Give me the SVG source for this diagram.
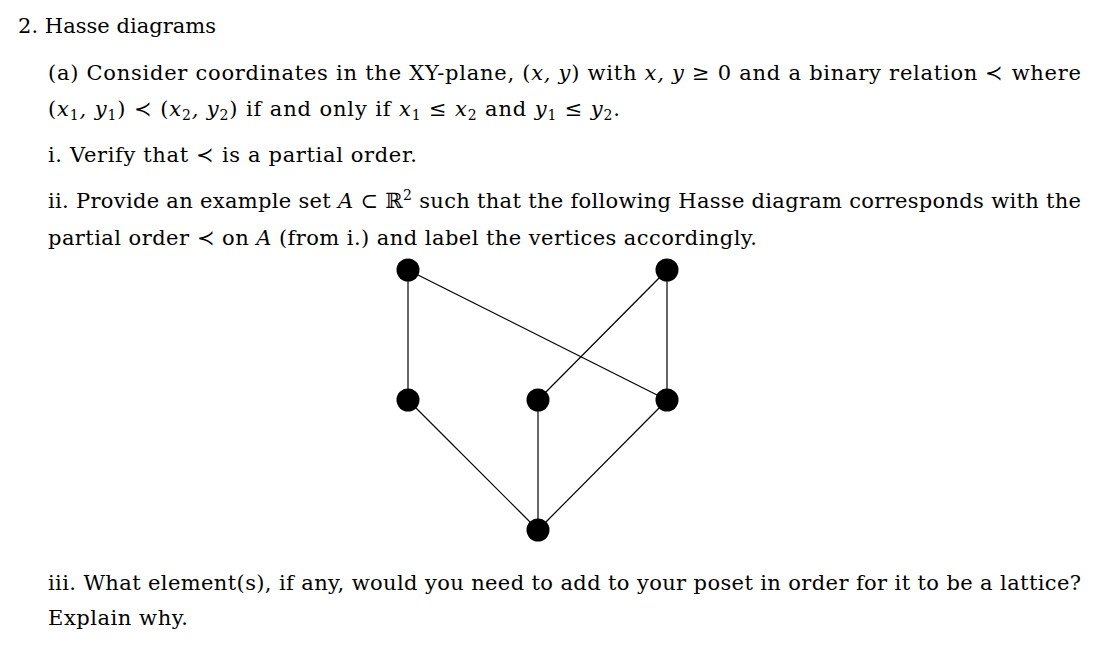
<svg xmlns="http://www.w3.org/2000/svg" width="1119" height="645" viewBox="0 0 1119 645">
<style>
text{font-family:"DejaVu Serif","Liberation Serif",serif;font-size:21px;fill:#000}
.m{font-style:italic}
.s{font-size:14px}
.e line{stroke:#000;stroke-width:1.2}
circle{fill:#000}
</style>
<rect width="1119" height="645" fill="#fff"/>
<text x="18" y="33" textLength="198" lengthAdjust="spacing">2. Hasse diagrams</text>
<text x="48" y="80" textLength="1033" lengthAdjust="spacing">(a) Consider coordinates in the XY-plane, (<tspan class="m">x, y</tspan>) with <tspan class="m">x, y</tspan> ≥ 0 and a binary relation ≺ where</text>
<text x="48" y="116" textLength="572" lengthAdjust="spacing">(<tspan class="m">x</tspan><tspan class="s" dy="4">1</tspan><tspan class="m" dy="-4">, y</tspan><tspan class="s" dy="4">1</tspan><tspan dy="-4">) ≺ (</tspan><tspan class="m">x</tspan><tspan class="s" dy="4">2</tspan><tspan class="m" dy="-4">, y</tspan><tspan class="s" dy="4">2</tspan><tspan dy="-4">) if and only if </tspan><tspan class="m">x</tspan><tspan class="s" dy="4">1</tspan><tspan dy="-4"> ≤ </tspan><tspan class="m">x</tspan><tspan class="s" dy="4">2</tspan><tspan dy="-4"> and </tspan><tspan class="m">y</tspan><tspan class="s" dy="4">1</tspan><tspan dy="-4"> ≤ </tspan><tspan class="m">y</tspan><tspan class="s" dy="4">2</tspan><tspan dy="-4">.</tspan></text>
<text x="48" y="162" textLength="369" lengthAdjust="spacing">i. Verify that ≺ is a partial order.</text>
<text x="48" y="208" textLength="1033" lengthAdjust="spacing">ii. Provide an example set <tspan class="m">A</tspan> ⊂ ℝ<tspan dy="-8" class="s">2</tspan><tspan dy="8"> such that the following Hasse diagram corresponds with the</tspan></text>
<text x="48" y="245" textLength="709" lengthAdjust="spacing">partial order ≺ on <tspan class="m">A</tspan> (from i.) and label the vertices accordingly.</text>
<g class="e" id="connectors">
<line x1="408" y1="270" x2="408" y2="400"/>
<line x1="408" y1="270" x2="667" y2="400"/>
<line x1="667" y1="270" x2="538" y2="400"/>
<line x1="667" y1="270" x2="667" y2="400"/>
<line x1="408" y1="400" x2="538" y2="530"/>
<line x1="538" y1="400" x2="538" y2="530"/>
<line x1="667" y1="400" x2="538" y2="530"/>
</g>
<g id="n1"><circle cx="408" cy="270" r="11.5"/></g>
<g id="n2"><circle cx="667" cy="270" r="11.5"/></g>
<g id="n3"><circle cx="408" cy="400" r="11.5"/></g>
<g id="n4"><circle cx="538" cy="400" r="11.5"/></g>
<g id="n5"><circle cx="667" cy="400" r="11.5"/></g>
<g id="n6"><circle cx="538" cy="530" r="11.5"/></g>
<text x="48" y="590" textLength="1033" lengthAdjust="spacing">iii. What element(s), if any, would you need to add to your poset in order for it to be a lattice?</text>
<text x="48" y="625" textLength="140" lengthAdjust="spacing">Explain why.</text>
</svg>
